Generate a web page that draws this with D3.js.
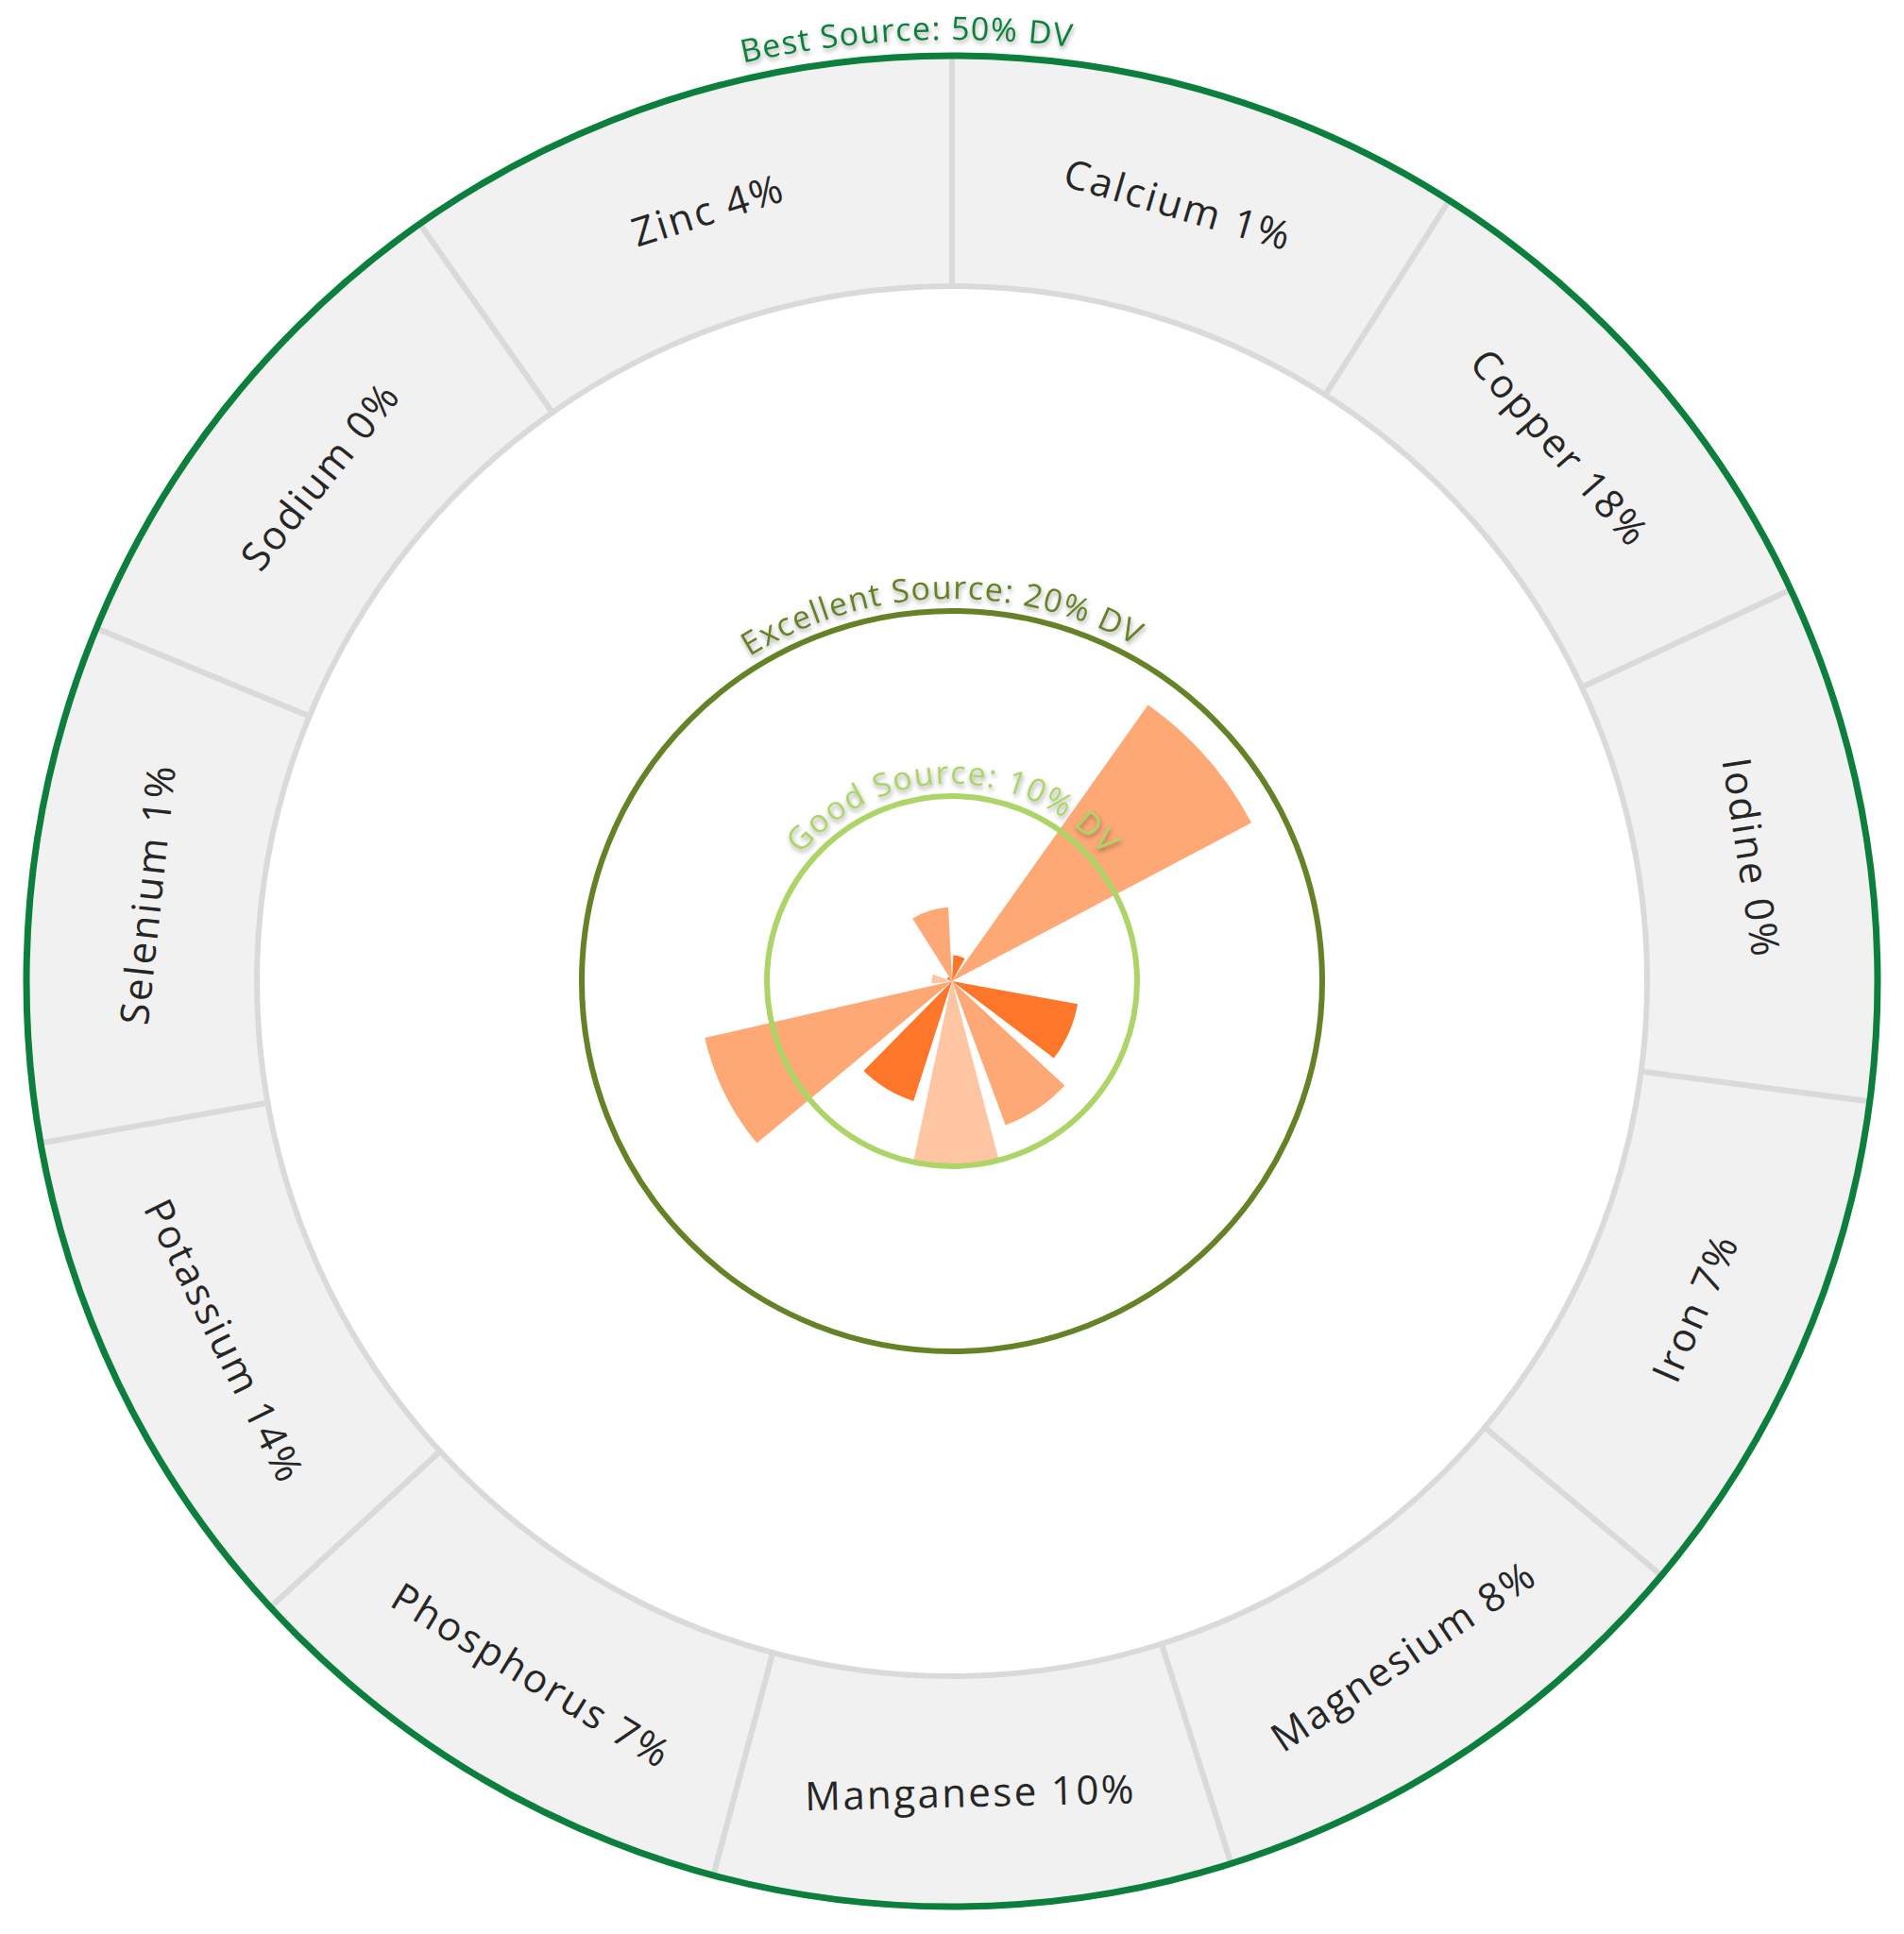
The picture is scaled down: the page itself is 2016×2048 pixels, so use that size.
<!DOCTYPE html>
<html>
<head>
<meta charset="utf-8">
<script src="https://cdn.jsdelivr.net/npm/d3@7"></script>
<style>
  html, body { margin: 0; padding: 0; background: #ffffff; }
  svg { display: block; }
  text { font-family: "Open Sans", "Noto Sans", sans-serif; }
</style>
</head>
<body>
<svg id="chart" width="2016" height="2048"></svg>
<script>
// ---- data ----
const categories = ["Calcium", "Copper", "Iodine", "Iron", "Magnesium", "Manganese",
                    "Phosphorus", "Potassium", "Selenium", "Sodium", "Zinc"];
const values = [1.4, 18.3, 0, 6.9, 8.3, 9.9, 6.8, 13.7, 1.1, 0.3, 4.0];
const labelPercents = [1, 18, 0, 7, 8, 10, 7, 14, 1, 0, 4];
const thresholdValues = [10, 20, 50];
const thresholdLabels = ["Good Source: 10% DV", "Excellent Source: 20% DV", "Best Source: 50% DV"];
const thresholdColors = ["#add467", "#668226", "#0b7f3b"];
const barColors = ["#fe762a", "#fda875", "#fdc5a2"];

// ---- layout ----
const W = 2016, H = 2048;
const cx = 1008, cy = 1039;
const R = 980;
const bandInner = 736;
const TAU = 2 * Math.PI;

const svg = d3.select("#chart");
svg.append("rect").attr("width", W).attr("height", H).attr("fill", "#ffffff");

const defs = svg.append("defs");
const f = defs.append("filter").attr("id", "shadow")
  .attr("x", "-20%").attr("y", "-50%").attr("width", "140%").attr("height", "200%");
f.append("feDropShadow").attr("dx", 1).attr("dy", 3).attr("stdDeviation", 2.5)
  .attr("flood-color", "#000").attr("flood-opacity", 0.35);

const g = svg.append("g").attr("transform", `translate(${cx},${cy})`);

const r = d3.scaleLinear().domain([0, 50]).range([0, R]);
const x = d3.scaleBand().domain(categories).range([0, TAU])
  .paddingInner(0).paddingOuter(0.04).align(0);
const color = d3.scaleOrdinal().domain(d3.range(3)).range(barColors);

const n = categories.length;
const data = categories.map((c, i) => ({
  name: c, value: values[i], label: labelPercents[i], i,
  a0: x(c),
  a1: i < n - 1 ? x(categories[i + 1]) : TAU
}));

// ---- outer band ----
const bandArc = d3.arc()
  .innerRadius(bandInner).outerRadius(R)
  .startAngle(d => d.a0).endAngle(d => d.a1);

g.append("g").selectAll("path").data(data).join("path")
  .attr("d", bandArc)
  .attr("fill", "#f1f1f1")
  .attr("stroke", "#dadada")
  .attr("stroke-width", 6);

// ---- bars ----
const barArc = d3.arc()
  .innerRadius(0)
  .outerRadius(d => r(d.value))
  .startAngle(d => d.a0).endAngle(d => d.a1)
  .padAngle(0.1);

g.append("g").selectAll("path").data(data).join("path")
  .attr("d", barArc)
  .attr("fill", d => color(d.i % 3));

// ---- threshold circles ----
g.append("g").selectAll("circle").data(thresholdValues).join("circle")
  .attr("r", d => r(d))
  .attr("fill", "none")
  .attr("stroke", (d, i) => thresholdColors[i])
  .attr("stroke-width", (d, i) => i === 2 ? 7 : 6);

// ---- category labels ----
const labelR = (bandInner + R) / 2;
g.append("g").selectAll("text").data(data).join("text")
  .attr("transform", d => {
    const a = ((d.a0 + d.a1) / 2) * 180 / Math.PI;
    const rad = a * Math.PI / 180;
    const px = labelR * Math.sin(rad), py = -labelR * Math.cos(rad);
    const rot = (a > 90 && a < 270) ? a - 180 : a;
    return `translate(${px},${py}) rotate(${rot})`;
  })
  .attr("text-anchor", "middle")
  .attr("dominant-baseline", "central")
  .attr("font-size", 42)
  .attr("letter-spacing", 2.4)
  .attr("fill", "#262626")
  .text(d => `${d.name} ${d.label}%`);

// ---- threshold labels on arcs ----
const labelOffsets = [13, 13, 17];
const centerShiftDeg = [0.3, -1.6, -2.75];
thresholdValues.forEach((v, i) => {
  const rr = r(v) + labelOffsets[i];
  const id = "tp" + i;
  defs.append("path").attr("id", id)
    .attr("d", `M ${cx - rr},${cy} A ${rr},${rr} 0 1 1 ${cx + rr},${cy} A ${rr},${rr} 0 1 1 ${cx - rr},${cy}`);
  svg.append("text")
    .attr("font-size", 34)
    .attr("letter-spacing", 1.3)
    .attr("fill", thresholdColors[i])
    .attr("filter", "url(#shadow)")
    .append("textPath")
    .attr("href", "#" + id)
    .attr("startOffset", (25 + centerShiftDeg[i] / 360 * 100) + "%")
    .attr("text-anchor", "middle")
    .text(thresholdLabels[i]);
});
</script>
</body>
</html>
